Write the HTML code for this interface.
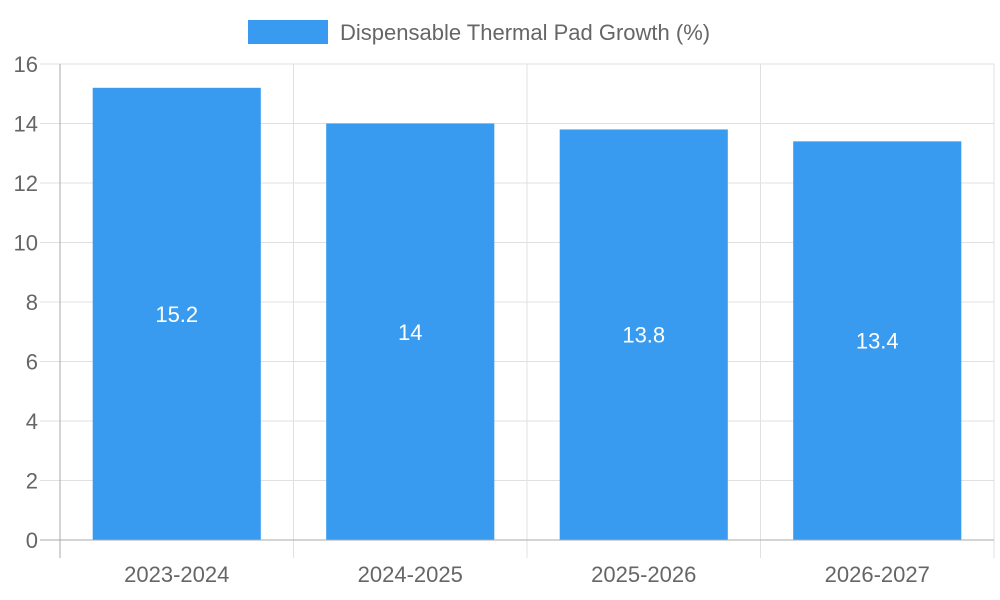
<!DOCTYPE html>
<html><head><meta charset="utf-8"><style>
body{margin:0;background:#fff;}
svg{display:block;font-family:"Liberation Sans",sans-serif;}
</style></head><body>
<svg id="chart" width="1000" height="600">
<g id="legend">
<rect x="248" y="20" width="80" height="24" fill="#389bf0"></rect>
<text x="340" y="40" font-size="22" fill="#666">Dispensable Thermal Pad Growth (%)</text>
</g>
<g id="grid"></g>
<g id="bars"></g>
<g id="axes"></g>
</svg>
<script>
const categories = ["2023-2024","2024-2025","2025-2026","2026-2027"];
const values = [15.2, 14, 13.8, 13.4];
const yTicks = [0,2,4,6,8,10,12,14,16];

const NS="http://www.w3.org/2000/svg";
const L=60,R=994,T=64,B=540,yMax=16;
const y=v=>B-(v/yMax)*(B-T);
const bw=(R-L)/categories.length;
const xc=i=>L+bw*(i+0.5);
function mk(tag,attrs,parent,text){const e=document.createElementNS(NS,tag);for(const k in attrs)e.setAttribute(k,attrs[k]);if(text!==undefined)e.textContent=text;parent.appendChild(e);return e;}
const grid=document.getElementById('grid'),bars=document.getElementById('bars'),axes=document.getElementById('axes');
yTicks.forEach(t=>{
  const ln=mk('line',{x1:40,x2:R,y1:y(t),y2:y(t),stroke:t===0?'#aaa':'#e0e0e0','stroke-width':1},t===0?axes:grid);
  
  
  const tx=mk('text',{x:38,y:y(t)+8,'text-anchor':'end','font-size':22,fill:'#666'},axes,String(t));
  
  
});
for(let i=0;i<=categories.length;i++){
  const x=L+bw*i;
  const ln=mk('line',{x1:x,x2:x,y1:T,y2:558,stroke:i===0?'#aaa':'#e0e0e0','stroke-width':1},i===0?axes:grid);
  
  
}
categories.forEach((c,i)=>{
  const w=bw*0.72;
  const r=mk('rect',{x:xc(i)-w/2,y:y(values[i]),width:w,height:B-y(values[i]),fill:'#389bf0'},bars);
  
  
  const v=mk('text',{x:xc(i),y:(y(values[i])+B)/2+8,'text-anchor':'middle','font-size':22,fill:'#fff'},bars,String(values[i]));
  
  
  const t=mk('text',{x:xc(i),y:582,'text-anchor':'middle','font-size':22,fill:'#666'},axes,c);
  
  
});
</script>
</body></html>
